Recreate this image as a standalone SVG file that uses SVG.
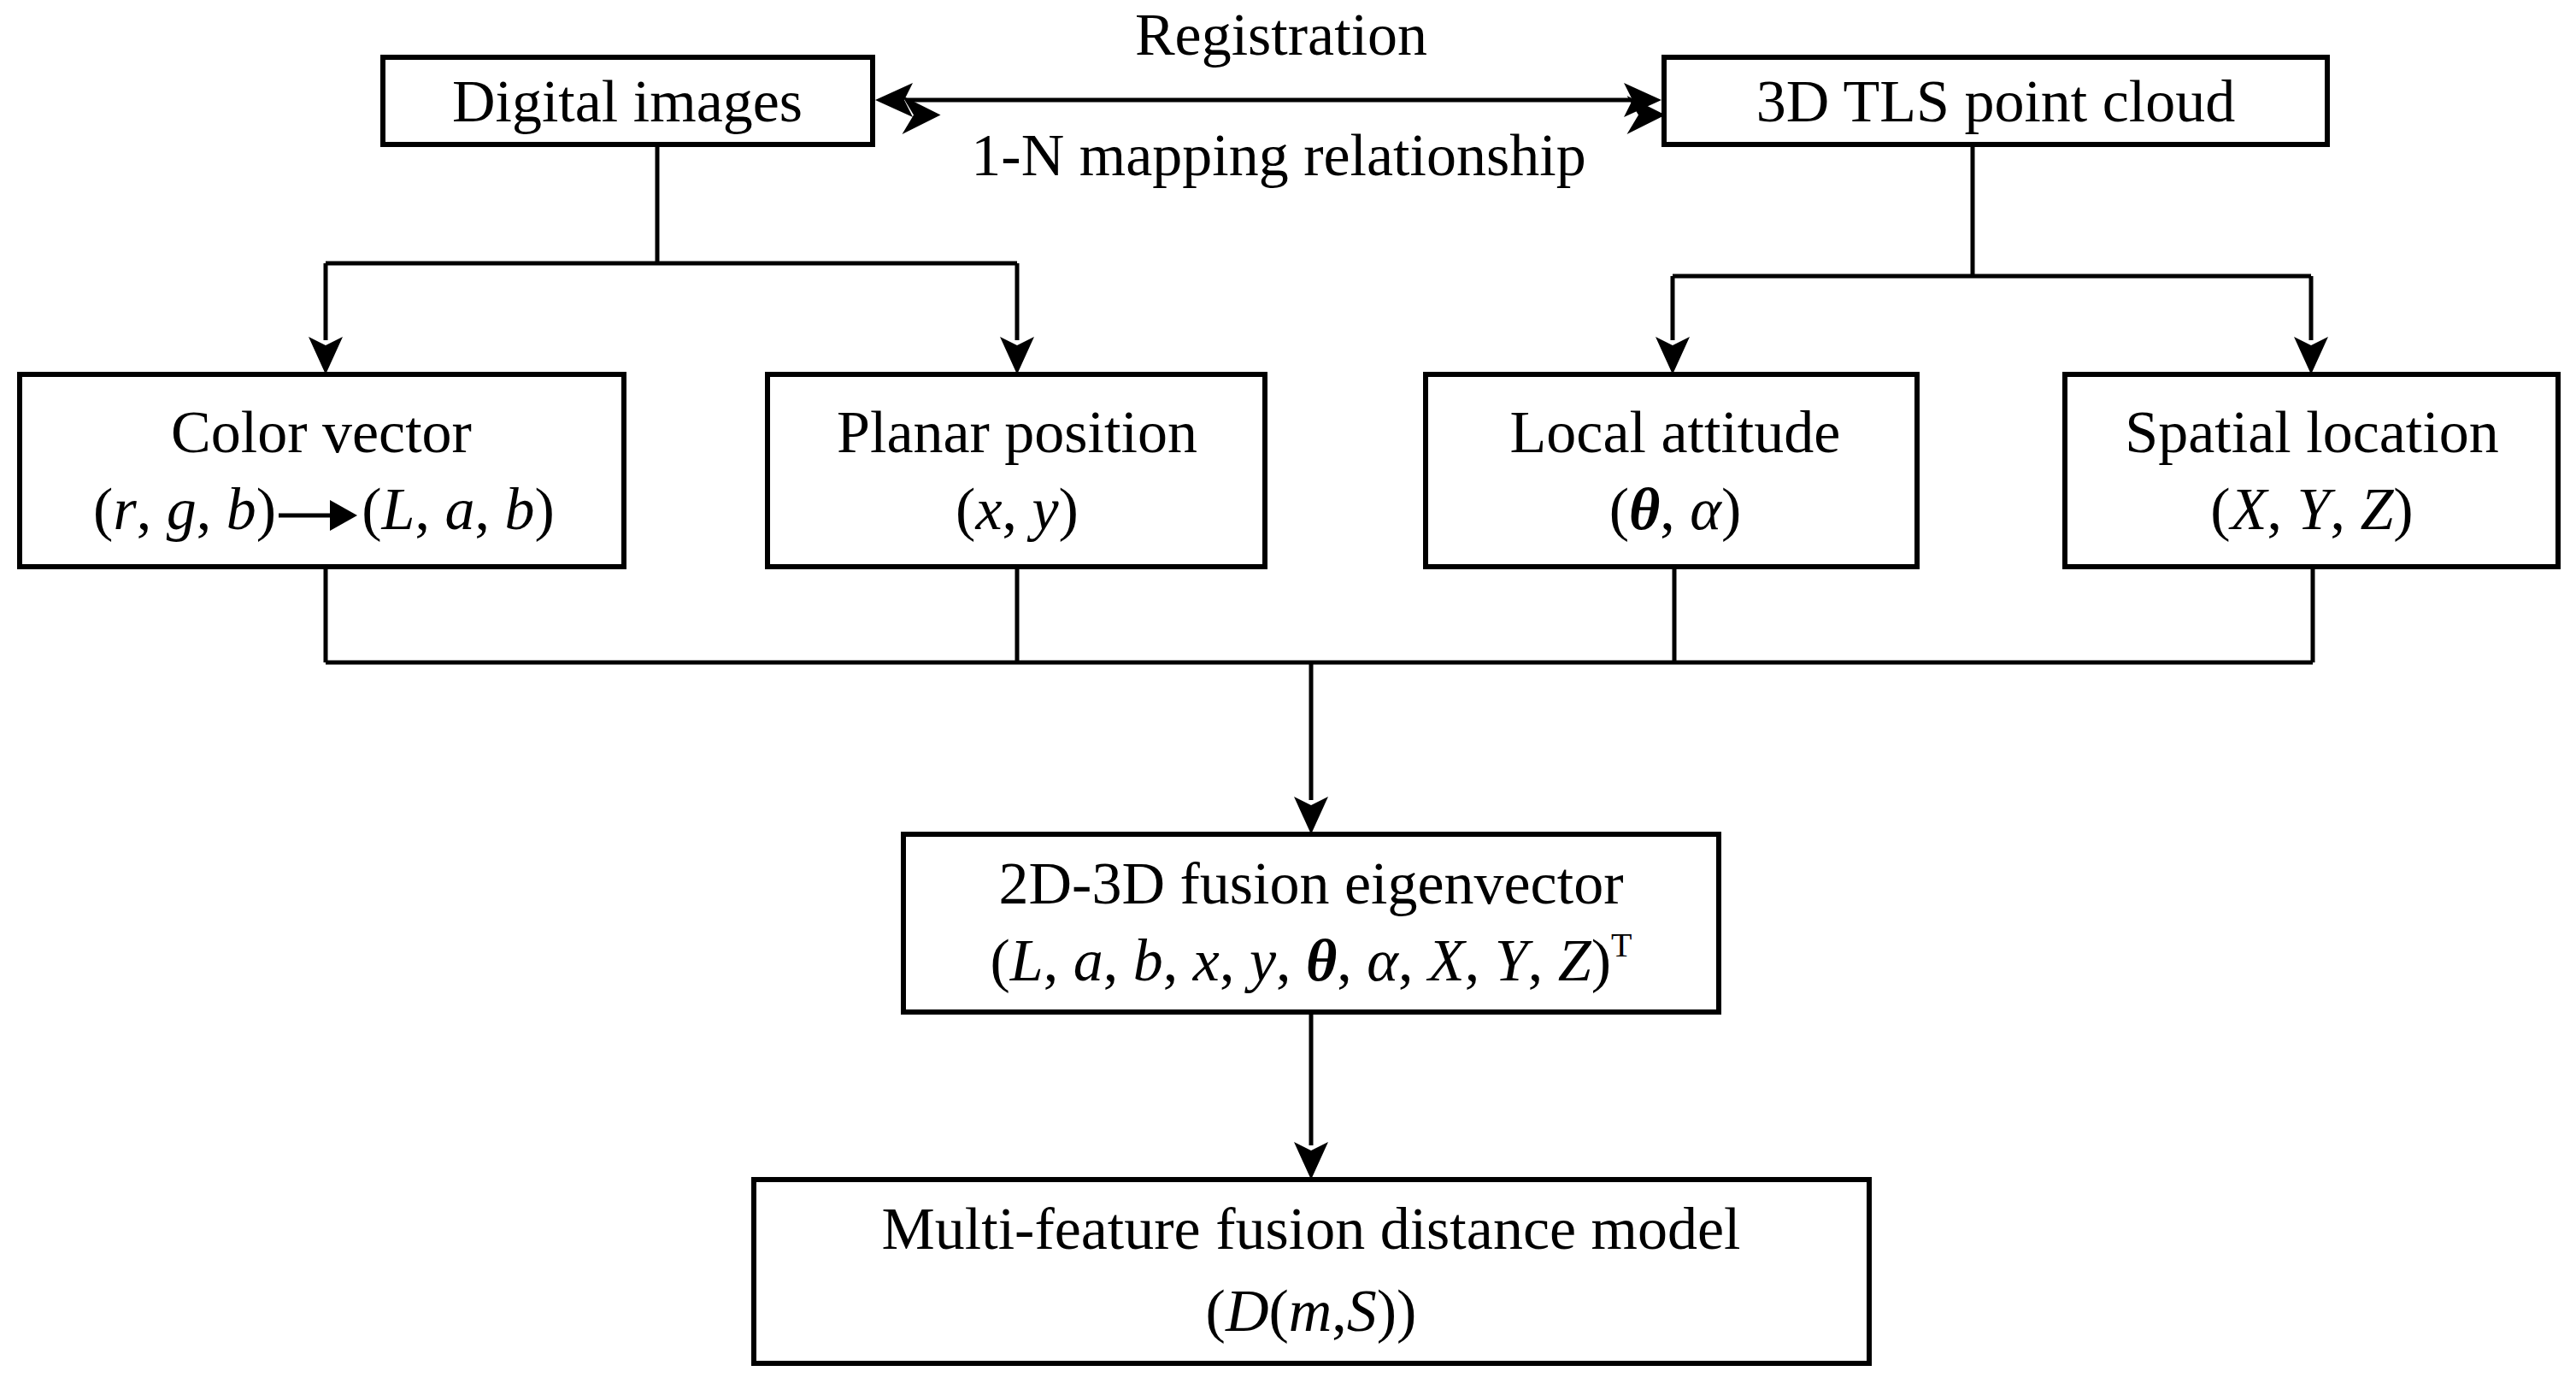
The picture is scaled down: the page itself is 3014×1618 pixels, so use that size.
<svg xmlns="http://www.w3.org/2000/svg" width="3014" height="1618" viewBox="0 0 3014 1618">
<style>
.b{fill:#fff;stroke:#000;stroke-width:6}
.l{fill:none;stroke:#000;stroke-width:5}
text{font-family:"Liberation Serif","Times New Roman",serif;font-size:70px;fill:#000;text-anchor:middle}
.i{font-style:italic}
</style>
<defs>
<marker id="a" markerWidth="10" markerHeight="10" refX="9" refY="5" orient="auto" markerUnits="userSpaceOnUse" viewBox="0 0 10 10" style="overflow:visible"><path d="M0,0 L10,5 L0,10 L3,5 z" transform="scale(4.5) translate(-8,-5) translate(9,5)"/></marker>
</defs>
<rect width="3014" height="1618" fill="#fff"/>
<g id="connectors">
<line class="l" x1="1060" y1="117" x2="1908" y2="117" marker-end="url(#a)" marker-start="url(#a)"/>
<path class="l" d="M769,169 V308 M381,308 H1190 M381,308 V398 M1190,308 V398"/>
<path class="l" d="M2308,169 V323 M1957,323 H2704 M1957,323 V398 M2704,323 V398"/>
<path class="l" d="M381,663 V775 M1190,663 V775 M1959,663 V775 M2706,663 V775 M381,775 H2706 M1534,775 V936 M1534,1184 V1340"/>
</g>
<g id="markers">
<path d="M1024,117 L1068,97 L1058,117 L1068,137 z"/>
<path d="M1944,117 L1900,97 L1910,117 L1900,137 z"/>
<path d="M381,438 L361,394 L381,404 L401,394 z"/>
<path d="M1190,438 L1170,394 L1190,404 L1210,394 z"/>
<path d="M1957,438 L1937,394 L1957,404 L1977,394 z"/>
<path d="M2704,438 L2684,394 L2704,404 L2724,394 z"/>
<path d="M1534,976 L1514,932 L1534,942 L1554,932 z"/>
<path d="M1534,1380 L1514,1336 L1534,1346 L1554,1336 z"/>
</g>
<g id="labels">
<text x="1499" y="64">Registration</text>
<text x="1496" y="205">1-N mapping relationship</text>
</g>
<g id="digital"><rect class="b" x="448" y="67" width="573" height="102"/><text x="734" y="142">Digital images</text></g>
<g id="tls"><rect class="b" x="1947" y="67" width="776" height="102"/><text x="2335" y="142">3D TLS point cloud</text></g>
<g id="color"><rect class="b" x="23" y="438" width="707" height="225"/><text x="376" y="529">Color vector</text>
<text x="216" y="619">(<tspan class="i">r</tspan>, <tspan class="i">g</tspan>, <tspan class="i">b</tspan>)</text>
<path d="M326,603 H390" class="l"/><path d="M418,603 L386,585 L386,621 z"/>
<text x="536" y="619">(<tspan class="i">L</tspan>, <tspan class="i">a</tspan>, <tspan class="i">b</tspan>)</text></g>
<g id="planar"><rect class="b" x="898" y="438" width="582" height="225"/><text x="1190" y="529">Planar position</text><text x="1190" y="619">(<tspan class="i">x</tspan>, <tspan class="i">y</tspan>)</text></g>
<g id="attitude"><rect class="b" x="1668" y="438" width="575" height="225"/><text x="1960" y="529">Local attitude</text><text x="1960" y="619">(<tspan class="i" font-weight="bold">θ</tspan>, <tspan class="i">α</tspan>)</text></g>
<g id="spatial"><rect class="b" x="2416" y="438" width="577" height="225"/><text x="2705" y="529">Spatial location</text><text x="2705" y="619">(<tspan class="i">X</tspan>, <tspan class="i">Y</tspan>, <tspan class="i">Z</tspan>)</text></g>
<g id="fusion"><rect class="b" x="1057" y="976" width="954" height="208"/><text x="1534" y="1057">2D-3D fusion eigenvector</text><text x="1534" y="1147">(<tspan class="i">L</tspan>, <tspan class="i">a</tspan>, <tspan class="i">b</tspan>, <tspan class="i">x</tspan>, <tspan class="i">y</tspan>, <tspan class="i" font-weight="bold">θ</tspan>, <tspan class="i">α</tspan>, <tspan class="i">X</tspan>, <tspan class="i">Y</tspan>, <tspan class="i">Z</tspan>)<tspan font-size="40" dy="-28">T</tspan></text></g>
<g id="model"><rect class="b" x="882" y="1380" width="1305" height="215"/><text x="1534" y="1461">Multi-feature fusion distance model</text><text x="1534" y="1557">(<tspan class="i">D</tspan>(<tspan class="i">m</tspan>,<tspan class="i">S</tspan>))</text></g>
</svg>
